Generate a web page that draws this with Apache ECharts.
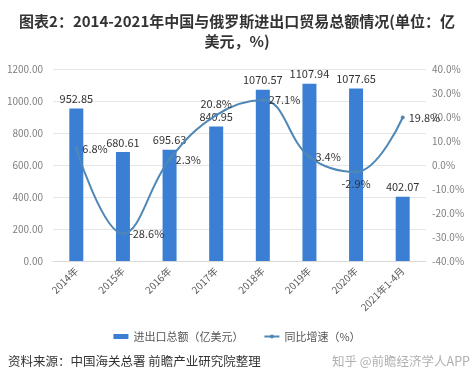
<!DOCTYPE html>
<html><head><meta charset="utf-8">
<script src="https://cdn.jsdelivr.net/npm/echarts@6/dist/echarts.min.js"></script>
<style>html,body{margin:0;padding:0;background:#fff}#c{width:474px;height:382px}</style>
</head><body><div id="c"></div>
<script>
const categories = ['2014年','2015年','2016年','2017年','2018年','2019年','2020年','2021年1-4月'];
const totalTrade = [952.85, 680.61, 695.63, 840.95, 1070.57, 1107.94, 1077.65, 402.07];
const growth = [6.8, -28.6, 2.3, 20.8, 27.1, 3.4, -2.9, 19.8];
const growthLabelPos = ['right','right','right','top','right','right','bottom','right'];

const font = '"Noto Sans CJK SC", "Noto Sans", sans-serif';
const chart = echarts.init(document.getElementById('c'), null, {renderer:'canvas'});
chart.setOption({
  backgroundColor:'#fff',
  animation:false,
  textStyle:{fontFamily:font},
  title:{
    text:'图表2：2014-2021年中国与俄罗斯进出口贸易总额情况(单位：亿\n美元，%)',
    left:'center', top:6,
    textStyle:{fontSize:15, fontWeight:'bold', color:'#333', lineHeight:20, fontFamily:font, align:'center'}
  },
  legend:{
    top:326, left:'center', itemGap:20,
    itemWidth:15, itemHeight:5,
    textStyle:{fontSize:11, color:'#555', fontFamily:font},
    data:[{name:'进出口总额（亿美元）', icon:'rect'},{name:'同比增速（%）'}]
  },
  grid:{left:53, right:48, top:69, bottom:121},
  xAxis:{
    type:'category', data:categories,
    axisLine:{lineStyle:{color:'#d9d9d9'}},
    axisTick:{show:false},
    axisLabel:{rotate:45, fontSize:10, color:'#595959', margin:8, interval:0, fontFamily:font}
  },
  yAxis:[
    {type:'value', min:0, max:1200, interval:200,
     axisLabel:{formatter:v=>v.toFixed(2), fontSize:10, color:'#7f7f7f', margin:10},
     splitLine:{lineStyle:{color:'#e6e6e6'}}, axisLine:{show:false}, axisTick:{show:false}},
    {type:'value', min:-40, max:40, interval:10,
     axisLabel:{formatter:v=>v.toFixed(1)+'%', fontSize:10, color:'#7f7f7f', margin:6},
     splitLine:{show:false}, axisLine:{show:false}, axisTick:{show:false}}
  ],
  series:[
    {name:'进出口总额（亿美元）', type:'bar', data:totalTrade, barWidth:14,
     itemStyle:{color:'#3b7fd4'},
     label:{show:true, position:'top', distance:4, fontSize:11, color:'#333', formatter:p=>p.value.toFixed(2)}},
    {name:'同比增速（%）', type:'line', yAxisIndex:1, smooth:0.4, z:5,
     symbol:'circle', symbolSize:4, showSymbol:true,
     lineStyle:{color:'#4f87b6', width:2}, itemStyle:{color:'#4f87b6'},
     data:growth.map((v,i)=>({value:v, label:{position:growthLabelPos[i]}})),
     label:{show:true, fontSize:11, color:'#333', distance:4, formatter:p=>p.value.toFixed(1)+'%'}}
  ],
  graphic:[
    {type:'text', left:8, top:355, style:{text:'资料来源：中国海关总署 前瞻产业研究院整理', fill:'#333', font:'12.5px '+font}},
    {type:'text', right:4, top:355, style:{text:'知乎 @前瞻经济学人APP', fill:'#b0b0b0', font:'12.5px '+font}}
  ]
});
</script></body></html>
